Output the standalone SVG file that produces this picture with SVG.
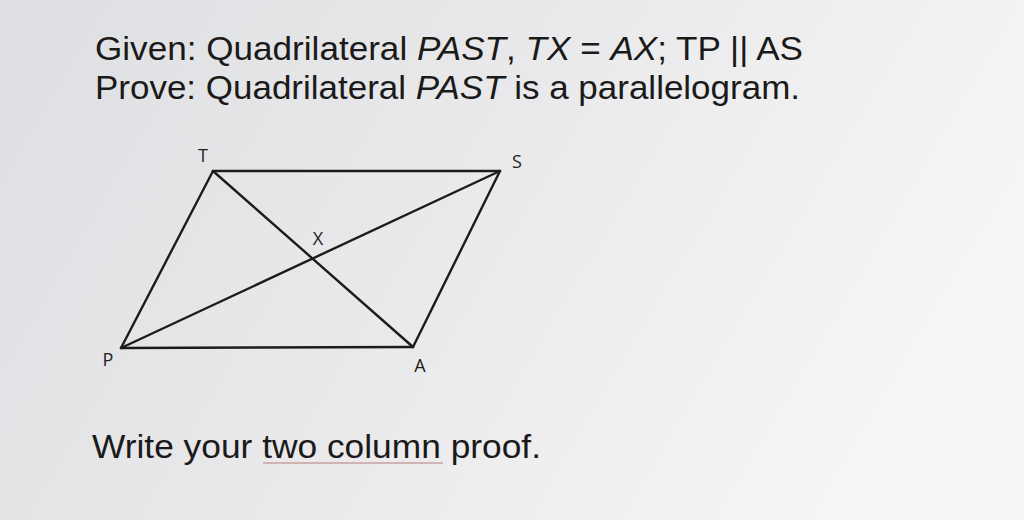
<svg xmlns="http://www.w3.org/2000/svg" width="1024" height="520" viewBox="0 0 1024 520">
<defs>
<linearGradient id="bg" x1="0" y1="0" x2="1" y2="0.3">
<stop offset="0" stop-color="#dedfe2"/>
<stop offset="0.5" stop-color="#e9e9eb"/>
<stop offset="1" stop-color="#f5f5f5"/>
</linearGradient>
<style>
.t{font-family:"Liberation Sans",Arial,sans-serif;font-size:34px;fill:#1a1a1a}
.i{font-style:italic}
.lbl{font-family:"Open Sans","DejaVu Sans",sans-serif;font-size:18px;fill:#222}
.e{stroke:#1c1c1c;stroke-width:2.4;fill:none;stroke-linecap:round}
</style>
</defs>
<rect width="1024" height="520" fill="url(#bg)"/>
<text class="t" x="95" y="60" textLength="708" lengthAdjust="spacingAndGlyphs">Given: Quadrilateral <tspan class="i">PAST</tspan>, <tspan class="i">TX</tspan> = <tspan class="i">AX</tspan>; TP || AS</text>
<text class="t" x="95" y="99" textLength="705" lengthAdjust="spacingAndGlyphs">Prove: Quadrilateral <tspan class="i">PAST</tspan> is a parallelogram.</text>
<g id="connectors">
<line class="e" x1="213" y1="171" x2="500" y2="171"/>
<line class="e" x1="121" y1="348" x2="413" y2="347"/>
<line class="e" x1="121" y1="348" x2="213" y2="171"/>
<line class="e" x1="413" y1="347" x2="500" y2="171"/>
<line class="e" x1="213" y1="171" x2="413" y2="347"/>
<line class="e" x1="121" y1="348" x2="500" y2="171"/>
</g>
<g id="node-T"><text class="lbl" x="203" y="162" text-anchor="middle">T</text></g>
<g id="node-S"><text class="lbl" x="517" y="168" text-anchor="middle">S</text></g>
<g id="node-P"><text class="lbl" x="108" y="366" text-anchor="middle">P</text></g>
<g id="node-A"><text class="lbl" x="420" y="372" text-anchor="middle">A</text></g>
<g id="node-X"><text class="lbl" x="318" y="245" text-anchor="middle">X</text></g>
<text class="t" x="92" y="458" textLength="449" lengthAdjust="spacingAndGlyphs">Write your two column proof.</text>
<line x1="263" y1="463" x2="443" y2="463" stroke="#c9a0a0" stroke-width="1.3"/>
</svg>
